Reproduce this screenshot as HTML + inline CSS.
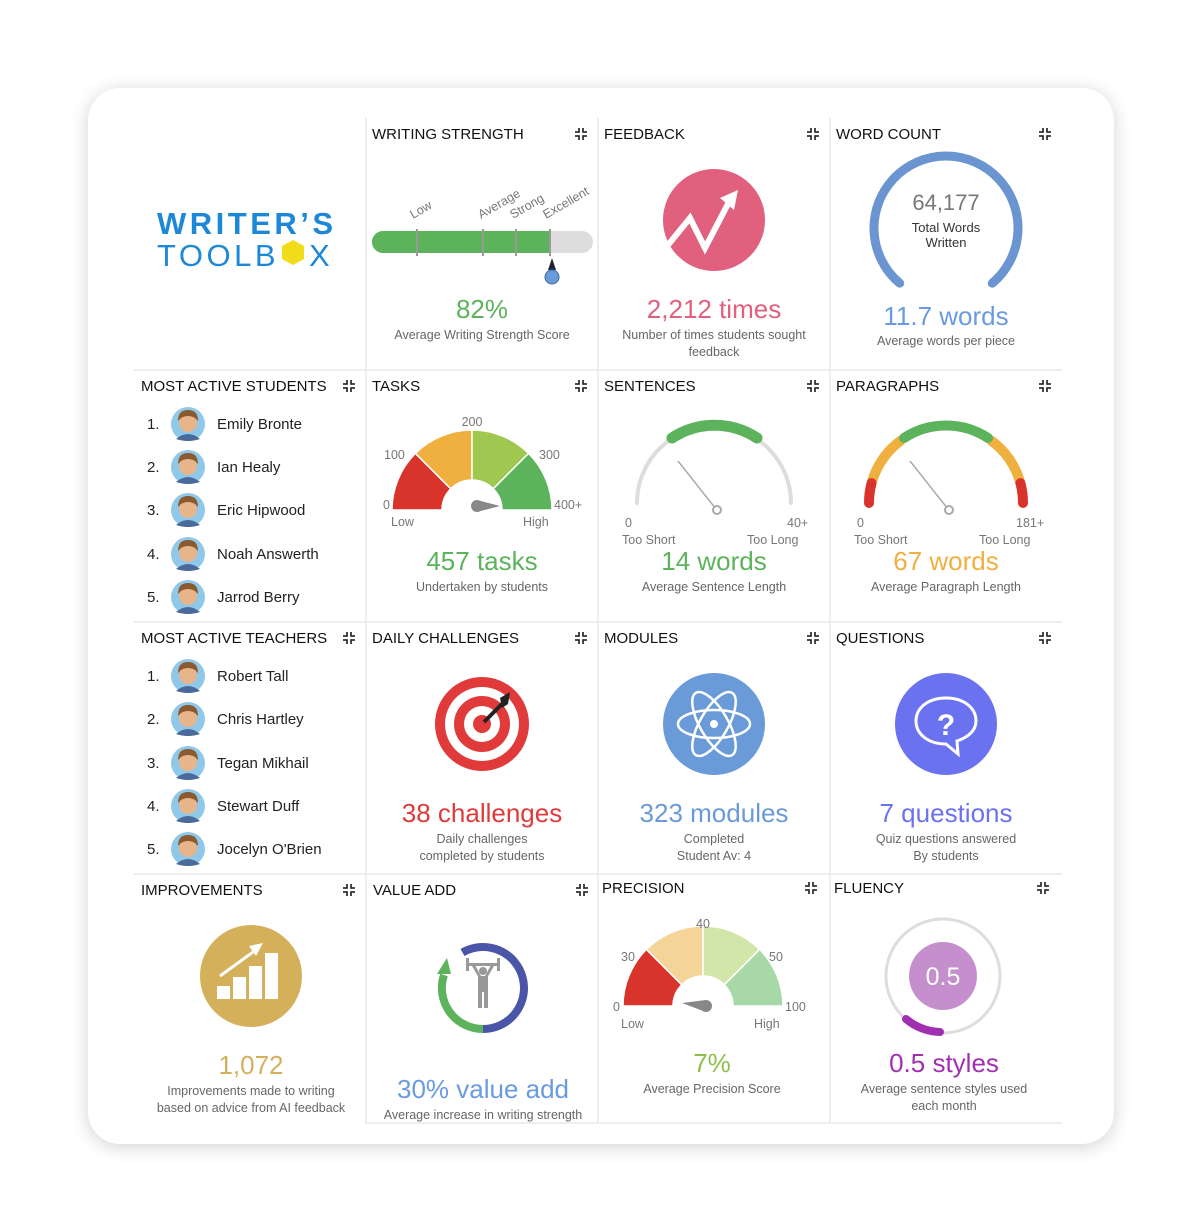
<!DOCTYPE html>
<html><head><meta charset="utf-8"><style>
html,body{margin:0;padding:0;background:#fff;width:1200px;height:1230px;overflow:hidden}
.card{position:absolute;left:88px;top:88px;width:1026px;height:1056px;border-radius:32px;background:#fff;box-shadow:0 3px 18px rgba(0,0,0,.18)}
svg{position:absolute;left:0;top:0}
text{font-family:"Liberation Sans",sans-serif}
.t{font-size:15px;fill:#111}
.s{font-size:12.5px;fill:#666;text-anchor:middle}
.b{font-size:26px;text-anchor:middle}
.n{font-size:15px;fill:#222}
.l{font-size:12.5px;fill:#777}
</style></head><body>
<div class="card"></div>
<svg width="1200" height="1230" viewBox="0 0 1200 1230">
<defs>
<g id="ic"><path d="M-6 -2H-2V-6M2 -6V-2H6M-6 2H-2V6M2 6V2H6" stroke="#333" stroke-width="1.8" fill="none"/></g>
<g id="av"><circle r="17" fill="#8fc8e8"/><circle cy="-1" r="9" fill="#e8b48a"/><path d="M-10 -3Q-10 -14 0 -14Q10 -14 10 -3L7 -6Q0 -10 -7 -6Z" fill="#8a5a30"/><path d="M-12 15Q0 5 12 15Q6 17 0 17Q-6 17 -12 15Z" fill="#4a6a9a"/></g>
</defs>
<!-- separators -->
<g stroke="#eee" stroke-width="2">
<line x1="366" y1="118" x2="366" y2="1124"/><line x1="598" y1="118" x2="598" y2="1124"/><line x1="830" y1="118" x2="830" y2="1124"/>
<line x1="134" y1="370" x2="1062" y2="370"/><line x1="134" y1="622" x2="1062" y2="622"/><line x1="134" y1="874" x2="1062" y2="874"/>
<line x1="366" y1="1123" x2="1062" y2="1123"/>
</g>
<!-- titles -->
<text class="t" x="372" y="139">WRITING STRENGTH</text><use href="#ic" x="581" y="134"/>
<text class="t" x="604" y="139">FEEDBACK</text><use href="#ic" x="813" y="134"/>
<text class="t" x="836" y="139">WORD COUNT</text><use href="#ic" x="1045" y="134"/>
<text class="t" x="141" y="391">MOST ACTIVE STUDENTS</text><use href="#ic" x="349" y="386"/>
<text class="t" x="372" y="391">TASKS</text><use href="#ic" x="581" y="386"/>
<text class="t" x="604" y="391">SENTENCES</text><use href="#ic" x="813" y="386"/>
<text class="t" x="836" y="391">PARAGRAPHS</text><use href="#ic" x="1045" y="386"/>
<text class="t" x="141" y="643">MOST ACTIVE TEACHERS</text><use href="#ic" x="349" y="638"/>
<text class="t" x="372" y="643">DAILY CHALLENGES</text><use href="#ic" x="581" y="638"/>
<text class="t" x="604" y="643">MODULES</text><use href="#ic" x="813" y="638"/>
<text class="t" x="836" y="643">QUESTIONS</text><use href="#ic" x="1045" y="638"/>
<text class="t" x="141" y="895">IMPROVEMENTS</text><use href="#ic" x="349" y="890"/>
<text class="t" x="373" y="895">VALUE ADD</text><use href="#ic" x="582" y="890"/>
<text class="t" x="602" y="893">PRECISION</text><use href="#ic" x="811" y="888"/>
<text class="t" x="834" y="893">FLUENCY</text><use href="#ic" x="1043" y="888"/>

<!-- logo -->
<text x="157" y="234" font-size="31" font-weight="bold" fill="#1e88d8" letter-spacing="3.5">WRITER’S</text>
<text x="157" y="266" font-size="31" fill="#1e88d8" letter-spacing="3.5">TOOLB</text>
<polygon points="293,240 304,246 304,259 293,265 282,259 282,246" fill="#f2dc1a"/>
<text x="309" y="266" font-size="31" fill="#1e88d8">X</text>

<!-- writing strength -->
<rect x="372" y="231" width="221" height="22" rx="11" fill="#ddd"/>
<path d="M383 231H551V253H383A11 11 0 0 1 383 231Z" fill="#5cb35c"/>
<g stroke="#999" stroke-width="2"><line x1="417" y1="229" x2="417" y2="256"/><line x1="483" y1="229" x2="483" y2="256"/><line x1="516" y1="229" x2="516" y2="256"/><line x1="550" y1="229" x2="550" y2="256"/></g>
<g class="l" font-size="12.5">
<text transform="translate(413,219) rotate(-30)">Low</text>
<text transform="translate(481,219) rotate(-30)">Average</text>
<text transform="translate(513,219) rotate(-30)">Strong</text>
<text transform="translate(546,219) rotate(-30)">Excellent</text></g>
<polygon points="552,258 548,270 556,270" fill="#223"/>
<circle cx="552" cy="277" r="7" fill="#6a9ad8" stroke="#3a6aa8"/>
<text class="b" x="482" y="318" fill="#5cb35c">82%</text>
<text class="s" x="482" y="339">Average Writing Strength Score</text>

<!-- feedback -->
<circle cx="714" cy="220" r="51" fill="#e0607e"/>
<path d="M668 245L690 218L705 248L730 200" stroke="#fff" stroke-width="6" fill="none" stroke-linejoin="miter"/>
<polygon points="738,190 720,198 734,210" fill="#fff"/>
<text class="b" x="714" y="318" fill="#e0607e">2,212 times</text>
<text class="s" x="714" y="339">Number of times students sought</text>
<text class="s" x="714" y="356">feedback</text>

<!-- word count -->
<path d="M899.7 283.2A72 72 0 1 1 992.3 283.2" stroke="#6a95d0" stroke-width="9" fill="none" stroke-linecap="round"/>
<text x="946" y="210" font-size="22" fill="#777" text-anchor="middle">64,177</text>
<text x="946" y="232" font-size="13" fill="#333" text-anchor="middle">Total Words</text>
<text x="946" y="247" font-size="13" fill="#333" text-anchor="middle">Written</text>
<text class="b" x="946" y="325" fill="#6a9ae0">11.7 words</text>
<text class="s" x="946" y="345">Average words per piece</text>

<!-- students -->
<g class="n">
<text x="147" y="429">1.</text><use href="#av" x="188" y="424"/><text x="217" y="429">Emily Bronte</text>
<text x="147" y="472">2.</text><use href="#av" x="188" y="467"/><text x="217" y="472">Ian Healy</text>
<text x="147" y="515">3.</text><use href="#av" x="188" y="510"/><text x="217" y="515">Eric Hipwood</text>
<text x="147" y="559">4.</text><use href="#av" x="188" y="554"/><text x="217" y="559">Noah Answerth</text>
<text x="147" y="602">5.</text><use href="#av" x="188" y="597"/><text x="217" y="602">Jarrod Berry</text>
<text x="147" y="681">1.</text><use href="#av" x="188" y="676"/><text x="217" y="681">Robert Tall</text>
<text x="147" y="724">2.</text><use href="#av" x="188" y="719"/><text x="217" y="724">Chris Hartley</text>
<text x="147" y="768">3.</text><use href="#av" x="188" y="763"/><text x="217" y="768">Tegan Mikhail</text>
<text x="147" y="811">4.</text><use href="#av" x="188" y="806"/><text x="217" y="811">Stewart Duff</text>
<text x="147" y="854">5.</text><use href="#av" x="188" y="849"/><text x="217" y="854">Jocelyn O'Brien</text>
</g>

<!-- tasks gauge -->
<g stroke="#fff" stroke-width="1.5">
<path d="M392 510A80 80 0 0 1 415.4 453.4L450.8 488.8A30 30 0 0 0 442 510Z" fill="#d8342c"/>
<path d="M415.4 453.4A80 80 0 0 1 472 430L472 480A30 30 0 0 0 450.8 488.8Z" fill="#f0b040"/>
<path d="M472 430A80 80 0 0 1 528.6 453.4L493.2 488.8A30 30 0 0 0 472 480Z" fill="#a0c850"/>
<path d="M528.6 453.4A80 80 0 0 1 552 510L502 510A30 30 0 0 0 493.2 488.8Z" fill="#5cb35c"/>
</g>
<circle cx="477" cy="506" r="6" fill="#888"/><polygon points="477,500 500,506 477,512" fill="#888"/>
<g class="l" font-size="12.5">
<text x="472" y="426" text-anchor="middle">200</text><text x="384" y="459">100</text><text x="539" y="459">300</text>
<text x="383" y="509">0</text><text x="554" y="509">400+</text><text x="391" y="526">Low</text><text x="523" y="526">High</text></g>
<text class="b" x="482" y="570" fill="#5cb35c">457 tasks</text>
<text class="s" x="482" y="591">Undertaken by students</text>

<!-- sentences -->
<path d="M637 503A77 77 0 0 1 791 503" stroke="#ddd" stroke-width="4" fill="none" stroke-linecap="round"/>
<path d="M672 438A77 77 0 0 1 757 438" stroke="#5cb35c" stroke-width="11" fill="none" stroke-linecap="round"/>
<line x1="716" y1="509" x2="678" y2="461" stroke="#aaa" stroke-width="1.5"/><circle cx="717" cy="510" r="4" fill="#fff" stroke="#aaa" stroke-width="2"/>
<g class="l"><text x="625" y="527">0</text><text x="787" y="527">40+</text><text x="622" y="544">Too Short</text><text x="747" y="544">Too Long</text></g>
<text class="b" x="714" y="570" fill="#5cb35c">14 words</text>
<text class="s" x="714" y="591">Average Sentence Length</text>

<!-- paragraphs -->
<g fill="none" stroke-width="10">
<path d="M871.6 483.1A77 77 0 0 1 901.8 439.9" stroke="#f0b040"/>
<path d="M990.2 439.9A77 77 0 0 1 1020.4 483.1" stroke="#f0b040"/>
<path d="M869 503A77 77 0 0 1 871.6 483.1" stroke="#d8342c" stroke-linecap="round"/>
<path d="M1020.4 483.1A77 77 0 0 1 1023 503" stroke="#d8342c" stroke-linecap="round"/>
<path d="M904 438A77 77 0 0 1 988 438" stroke="#5cb35c" stroke-linecap="round"/>
</g>
<line x1="948" y1="509" x2="910" y2="461" stroke="#aaa" stroke-width="1.5"/><circle cx="949" cy="510" r="4" fill="#fff" stroke="#aaa" stroke-width="2"/>
<g class="l"><text x="857" y="527">0</text><text x="1016" y="527">181+</text><text x="854" y="544">Too Short</text><text x="979" y="544">Too Long</text></g>
<text class="b" x="946" y="570" fill="#f0b040">67 words</text>
<text class="s" x="946" y="591">Average Paragraph Length</text>

<!-- daily challenges -->
<circle cx="482" cy="724" r="47" fill="#e03a3a"/><circle cx="482" cy="724" r="37" fill="#fff"/>
<circle cx="482" cy="724" r="28" fill="#e03a3a"/><circle cx="482" cy="724" r="18" fill="#fff"/><circle cx="482" cy="724" r="9" fill="#e03a3a"/>
<line x1="484" y1="722" x2="505" y2="701" stroke="#222" stroke-width="4"/>
<polygon points="500,698 510,692 508,704 502,708" fill="#222"/>
<text class="b" x="482" y="822" fill="#e03a3a">38 challenges</text>
<text class="s" x="482" y="843">Daily challenges</text><text class="s" x="482" y="860">completed by students</text>

<!-- modules -->
<circle cx="714" cy="724" r="51" fill="#6a9ad8"/>
<g fill="none" stroke="#fff" stroke-width="2.5">
<ellipse cx="714" cy="724" rx="36" ry="14"/><ellipse cx="714" cy="724" rx="36" ry="14" transform="rotate(60 714 724)"/><ellipse cx="714" cy="724" rx="36" ry="14" transform="rotate(-60 714 724)"/></g>
<circle cx="714" cy="724" r="4" fill="#fff"/>
<text class="b" x="714" y="822" fill="#6a9ad8">323 modules</text>
<text class="s" x="714" y="843">Completed</text><text class="s" x="714" y="860">Student Av: 4</text>

<!-- questions -->
<circle cx="946" cy="724" r="51" fill="#6b72f0"/>
<path d="M946 698C928 698 916 708 916 721C916 734 928 744 946 744L958 754L957 741C969 737 976 730 976 721C976 708 964 698 946 698Z" fill="none" stroke="#fff" stroke-width="3"/>
<text x="946" y="735" font-size="30" font-weight="bold" fill="#fff" text-anchor="middle">?</text>
<text class="b" x="946" y="822" fill="#6b72f0">7 questions</text>
<text class="s" x="946" y="843">Quiz questions answered</text><text class="s" x="946" y="860">By students</text>

<!-- improvements -->
<circle cx="251" cy="976" r="51" fill="#d4b05a"/>
<g fill="#fff"><rect x="217" y="986" width="13" height="13"/><rect x="233" y="977" width="13" height="22"/><rect x="249" y="966" width="13" height="33"/><rect x="265" y="953" width="13" height="46"/></g>
<line x1="220" y1="976" x2="253" y2="952" stroke="#fff" stroke-width="3"/><polygon points="263,943 249,946 256,956" fill="#fff"/>
<text class="b" x="251" y="1074" fill="#d4b05a">1,072</text>
<text class="s" x="251" y="1095">Improvements made to writing</text><text class="s" x="251" y="1112">based on advice from AI feedback</text>

<!-- value add -->
<path d="M462.5 952.5A41 41 0 1 1 483 1029" stroke="#4a55a8" stroke-width="8" fill="none"/>
<path d="M483 1029A41 41 0 0 1 444 975" stroke="#5cb35c" stroke-width="8" fill="none"/>
<polygon points="437,974 451,974 447,958" fill="#5cb35c"/>
<g fill="#999"><rect x="468" y="963" width="30" height="3"/><rect x="466" y="958" width="3" height="13"/><rect x="497" y="958" width="3" height="13"/>
<circle cx="483" cy="971" r="4"/><rect x="478" y="976" width="10" height="16"/><rect x="478" y="990" width="4" height="18"/><rect x="484" y="990" width="4" height="18"/>
<path d="M472 966L479 978L481 976L475 965Z"/><path d="M494 966L487 978L485 976L491 965Z"/></g>
<text class="b" x="483" y="1098" fill="#6a9ae0">30% value add</text>
<text class="s" x="483" y="1119">Average increase in writing strength</text>

<!-- precision -->
<g stroke="#fff" stroke-width="1.5">
<path d="M623 1006A80 80 0 0 1 646.4 949.4L681.8 984.8A30 30 0 0 0 673 1006Z" fill="#d8342c"/>
<path d="M646.4 949.4A80 80 0 0 1 703 926L703 976A30 30 0 0 0 681.8 984.8Z" fill="#f5d49a"/>
<path d="M703 926A80 80 0 0 1 759.6 949.4L724.2 984.8A30 30 0 0 0 703 976Z" fill="#d3e6aa"/>
<path d="M759.6 949.4A80 80 0 0 1 783 1006L733 1006A30 30 0 0 0 724.2 984.8Z" fill="#a9d8a8"/>
</g>
<circle cx="706" cy="1006" r="6" fill="#888"/><polygon points="706,1000 682,1003 706,1012" fill="#888"/>
<g class="l"><text x="703" y="928" text-anchor="middle">40</text><text x="621" y="961">30</text><text x="769" y="961">50</text>
<text x="613" y="1011">0</text><text x="785" y="1011">100</text><text x="621" y="1028">Low</text><text x="754" y="1028">High</text></g>
<text class="b" x="712" y="1072" fill="#8dc04a">7%</text>
<text class="s" x="712" y="1093">Average Precision Score</text>

<!-- fluency -->
<circle cx="943" cy="976" r="57" fill="none" stroke="#ddd" stroke-width="3"/>
<path d="M906 1019A57 57 0 0 0 940 1032" stroke="#a030b0" stroke-width="8" fill="none" stroke-linecap="round"/>
<circle cx="943" cy="976" r="34" fill="#c48fcc"/>
<text x="943" y="985" font-size="25" fill="#fff" text-anchor="middle">0.5</text>
<text class="b" x="944" y="1072" fill="#a030b0">0.5 styles</text>
<text class="s" x="944" y="1093">Average sentence styles used</text><text class="s" x="944" y="1110">each month</text>
</svg>
</body></html>
